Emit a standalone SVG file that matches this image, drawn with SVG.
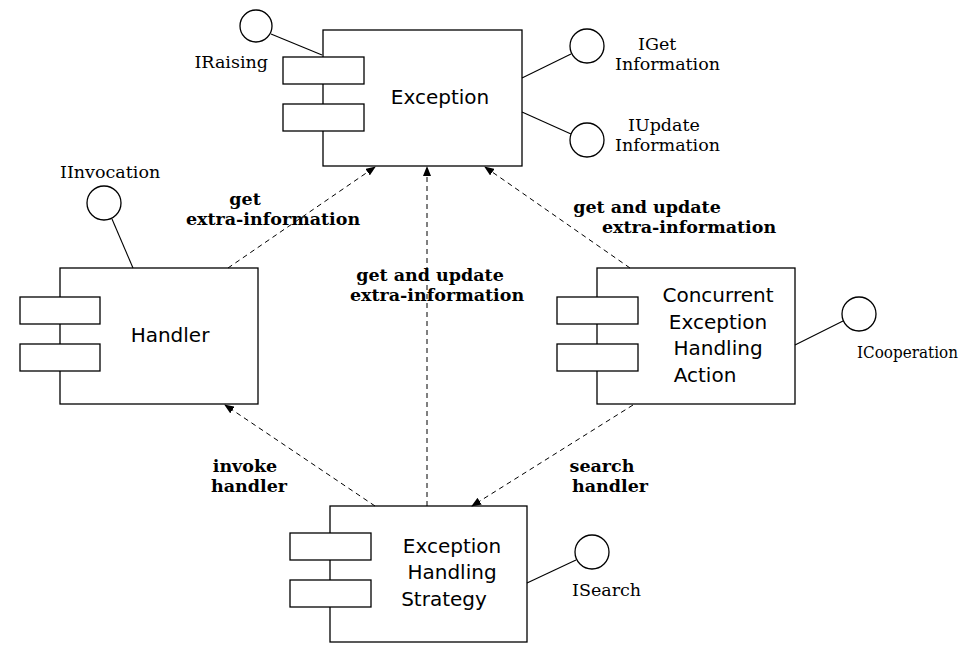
<svg xmlns="http://www.w3.org/2000/svg" width="970" height="648" viewBox="0 0 970 648">
<style>
.b{fill:#fff;stroke:#000;stroke-width:1.3}
.l{stroke:#000;stroke-width:1.1;fill:none}
.c{stroke:#000;stroke-width:1;stroke-dasharray:5,4;fill:none}
.n{font-family:"DejaVu Sans",sans-serif;font-size:20px;text-anchor:middle}
.i{font-family:"DejaVu Serif",serif;font-size:17.5px}
.e{font-family:"DejaVu Serif",serif;font-size:17.5px;font-weight:bold;text-anchor:middle}
</style>
<defs><marker id="a" markerWidth="10" markerHeight="8" refX="9" refY="4" orient="auto" markerUnits="userSpaceOnUse"><path d="M0,0L10,4L0,8z"/></marker></defs>
<rect width="970" height="648" fill="#fff"/>
<g id="exception">
<rect class="b" x="323" y="30" width="199" height="136"/>
<rect class="b" x="283" y="57" width="81" height="27"/><rect class="b" x="283" y="104" width="81" height="27"/>
<text class="n" x="440" y="104">Exception</text>
<circle class="b" cx="256" cy="26" r="16"/><line class="l" x1="271" y1="34" x2="322" y2="55"/>
<text class="i" x="268" y="68" text-anchor="end">IRaising</text>
<circle class="b" cx="587" cy="46" r="17"/><line class="l" x1="522" y1="78" x2="571" y2="54"/>
<text class="i" x="638" y="50">IGet</text><text class="i" x="615" y="70">Information</text>
<circle class="b" cx="587" cy="140" r="17"/><line class="l" x1="522" y1="112" x2="571" y2="134"/>
<text class="i" x="628" y="131">IUpdate</text><text class="i" x="615" y="151">Information</text>
</g>
<g id="handler">
<rect class="b" x="60" y="268" width="198" height="136"/>
<rect class="b" x="20" y="297" width="80" height="27"/><rect class="b" x="20" y="344" width="80" height="27"/>
<text class="n" x="170" y="342">Handler</text>
<circle class="b" cx="104" cy="203" r="17"/><line class="l" x1="112" y1="219" x2="133" y2="268"/>
<text class="i" x="60" y="178">IInvocation</text>
</g>
<g id="ceha">
<rect class="b" x="597" y="268" width="198" height="136"/>
<rect class="b" x="557" y="297" width="81" height="27"/><rect class="b" x="557" y="344" width="81" height="27"/>
<text class="n" x="718" y="302">Concurrent</text><text class="n" x="718" y="329">Exception</text><text class="n" x="718" y="355">Handling</text><text class="n" x="705" y="382">Action</text>
<circle class="b" cx="859" cy="314" r="17"/><line class="l" x1="795" y1="345" x2="843" y2="321"/>
<text class="i" x="857" y="358" textLength="101" lengthAdjust="spacingAndGlyphs">ICooperation</text>
</g>
<g id="ehs">
<rect class="b" x="330" y="506" width="197" height="136"/>
<rect class="b" x="290" y="533" width="81" height="27"/><rect class="b" x="290" y="580" width="81" height="27"/>
<text class="n" x="452" y="553">Exception</text><text class="n" x="452" y="579">Handling</text><text class="n" x="444" y="606">Strategy</text>
<circle class="b" cx="592" cy="552" r="17"/><line class="l" x1="527" y1="583" x2="576" y2="560"/>
<text class="i" x="572" y="596">ISearch</text>
</g>
<g id="connectors">
<line class="c" x1="228" y1="268" x2="375" y2="167" marker-end="url(#a)"/>
<line class="c" x1="427" y1="506" x2="427" y2="167" marker-end="url(#a)"/>
<line class="c" x1="630" y1="268" x2="485" y2="167" marker-end="url(#a)"/>
<line class="c" x1="375" y1="506" x2="225" y2="405" marker-end="url(#a)"/>
<line class="c" x1="633" y1="405" x2="472" y2="506" marker-end="url(#a)"/>
<text class="e" x="245" y="205">get</text><text class="e" x="273" y="225">extra-information</text>
<text class="e" x="430" y="281">get and update</text><text class="e" x="437" y="301">extra-information</text>
<text class="e" x="647" y="213">get and update</text><text class="e" x="689" y="233">extra-information</text>
<text class="e" x="245" y="472">invoke</text><text class="e" x="249" y="492">handler</text>
<text class="e" x="602" y="472">search</text><text class="e" x="610" y="492">handler</text>
</g>
</svg>
